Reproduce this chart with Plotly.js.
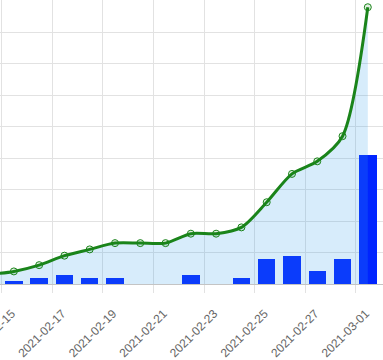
<!DOCTYPE html>
<html>
<head>
<meta charset="utf-8">
<script src="https://cdn.plot.ly/plotly-3.0.1.min.js"></script>
<style>html,body{margin:0;padding:0;background:#fff;}#chart{width:383px;height:360px;}</style>
</head>
<body>
<div id="chart"></div>
<script>
// Dates (points sit mid-day)
const lineDates = ["2021-02-14","2021-02-15","2021-02-16","2021-02-17","2021-02-18","2021-02-19","2021-02-20","2021-02-21","2021-02-22","2021-02-23","2021-02-24","2021-02-25","2021-02-26","2021-02-27","2021-02-28","2021-03-01"];
const cumulative = [3,4,6,9,11,13,13,13,16,16,18,26,35,39,47,88];
const barDates = ["2021-02-15","2021-02-16","2021-02-17","2021-02-18","2021-02-19","2021-02-20","2021-02-21","2021-02-22","2021-02-23","2021-02-24","2021-02-25","2021-02-26","2021-02-27","2021-02-28","2021-03-01"];
const daily = [1,2,3,2,2,0,0,3,0,2,8,9,4,8,41];

const mid = d => d + " 11:30";

const traces = [
  {
    type: "bar",
    x: barDates.map(mid),
    y: daily,
    width: 0.69 * 86400000,
    marker: {color: "#0024ff"},
    hoverinfo: "skip"
  },
  {
    type: "scatter",
    mode: "lines+markers",
    x: lineDates.map(mid),
    y: cumulative,
    line: {color: "#1a841a", width: 3, shape: "spline", smoothing: 0.8},
    marker: {size: 7, color: "rgba(26,132,26,0.12)", line: {color: "#1a841a", width: 1}},
    fill: "tozeroy",
    fillcolor: "rgba(54,162,235,0.2)",
    hoverinfo: "skip"
  }
];

const layout = {
  width: 383, height: 360,
  margin: {l: 0, r: 0, t: 0, b: 76, pad: 0},
  paper_bgcolor: "#fff", plot_bgcolor: "#fff",
  showlegend: false,
  font: {family: "Liberation Sans, Arial, sans-serif", size: 12, color: "#666"},
  xaxis: {
    type: "date",
    range: ["2021-02-14 22:20", "2021-03-02 01:55"],
    tick0: "2021-02-15", dtick: 2 * 86400000,
    tickformat: "%Y-%m-%d", tickangle: -45,
    ticklabelshift: 10, ticklabelstandoff: 9,
    ticklabeloverflow: "allow",
    showgrid: true, gridcolor: "#e2e2e2", gridwidth: 1,
    ticks: "outside", ticklen: 8, tickcolor: "#e2e2e2",
    zeroline: false, showline: false,
    tickfont: {size: 12, color: "#666"}
  },
  yaxis: {
    range: [0, 90.3], dtick: 10,
    showgrid: true, gridcolor: "#e2e2e2", gridwidth: 1,
    zeroline: true, zerolinecolor: "#c4c4c4", zerolinewidth: 1,
    showticklabels: false, ticks: "", showline: false
  },
  bargap: 0
};

Plotly.newPlot("chart", traces, layout, {staticPlot: true, displayModeBar: false});
</script>
</body>
</html>
